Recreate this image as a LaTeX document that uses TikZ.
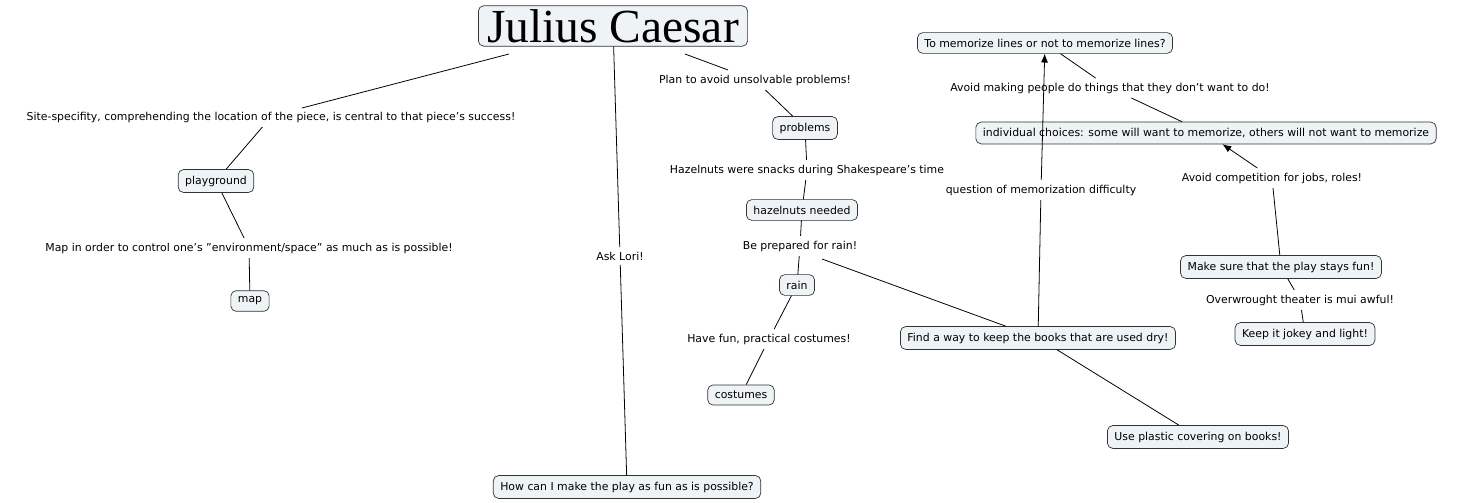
\documentclass[tikz,border=0pt]{standalone}
\usepackage{fontspec}
\setmainfont{DejaVu Sans}
\newfontfamily\titlefont{Liberation Serif}
\usetikzlibrary{arrows.meta}
\definecolor{boxfill}{HTML}{EEF3F5}
\begin{document}
\begin{tikzpicture}[x=0.02cm,y=-0.02cm,
  concept/.style={draw=black!80,rounded corners=3pt,fill=boxfill,font=\fontsize{6.2}{7}\selectfont,inner xsep=4pt,inner ysep=3.5pt},
  phrase/.style={font=\fontsize{6.2}{7}\selectfont,inner sep=2.5pt,fill=white},
  link/.style={draw=black,line width=0.45pt},
  arr/.style={link,-{Latex[length=5pt,width=4pt]}}]
\useasboundingbox (0,0) rectangle (1461,503);
\node[concept,font=\titlefont\fontsize{27}{30}\selectfont,inner ysep=2pt,inner xsep=5pt] (jc) at (613,26) {Julius Caesar};
\node[phrase] (p1) at (271,117) {Site-specifity, comprehending the location of the piece, is central to that piece's success!};
\node[concept] (pg) at (216,181) {playground};
\node[phrase] (p2) at (249,248) {Map in order to control one's "environment/space" as much as is possible!};
\node[concept] (map) at (250,301) {map};
\node[phrase] (p3) at (620,256) {Ask Lori!};
\node[concept] (how) at (627,487) {How can I make the play as fun as is possible?};
\node[phrase] (p4) at (755,80) {Plan to avoid unsolvable problems!};
\node[concept] (prob) at (805,128) {problems};
\node[phrase] (p5) at (807,170) {Hazelnuts were snacks during Shakespeare's time};
\node[concept] (haz) at (802,210) {hazelnuts needed};
\node[phrase] (p6) at (800,246) {Be prepared for rain!};
\node[concept] (rain) at (797,285) {rain};
\node[phrase] (p7) at (769,339) {Have fun, practical costumes!};
\node[concept] (cos) at (741,395) {costumes};
\node[concept] (find) at (1038,338) {Find a way to keep the books that are used dry!};
\node[concept] (plastic) at (1198,437) {Use plastic covering on books!};
\node[phrase] (p8) at (1041,190) {question of memorization difficulty};
\node[concept] (mem) at (1045,43) {To memorize lines or not to memorize lines?};
\node[phrase] (p9) at (1110,88) {Avoid making people do things that they don't want to do!};
\node[concept] (ind) at (1206,133) {individual choices: some will want to memorize, others will not want to memorize};
\node[phrase] (p10) at (1272,178) {Avoid competition for jobs, roles!};
\node[concept] (fun) at (1281,267) {Make sure that the play stays fun!};
\node[phrase] (p11) at (1300,300) {Overwrought theater is mui awful!};
\node[concept] (jokey) at (1305,334) {Keep it jokey and light!};
\draw[link] (509,54) -- (302,108);
\draw[link] (p1) -- (pg);
\draw[link] (pg) -- (p2);
\draw[link] (p2) -- (map);
\draw[link] (jc) -- (p3);
\draw[link] (p3) -- (how);
\draw[link] (685,54) -- (p4);
\draw[link] (p4) -- (prob);
\draw[link] (prob) -- (p5);
\draw[link] (p5) -- (haz);
\draw[link] (haz) -- (p6);
\draw[link] (p6) -- (rain);
\draw[link] (rain) -- (p7);
\draw[link] (p7) -- (cos);
\draw[link] (822,259) -- (find);
\draw[link] (find) -- (p8);
\draw[arr] (p8) -- (mem);
\draw[link] (mem) -- (p9);
\draw[link] (p9) -- (ind);
\draw[link] (fun) -- (p10);
\draw[arr] (p10) -- (ind);
\draw[link] (fun) -- (p11);
\draw[link] (p11) -- (jokey);
\draw[link] (find) -- (plastic);
\end{tikzpicture}
\end{document}
